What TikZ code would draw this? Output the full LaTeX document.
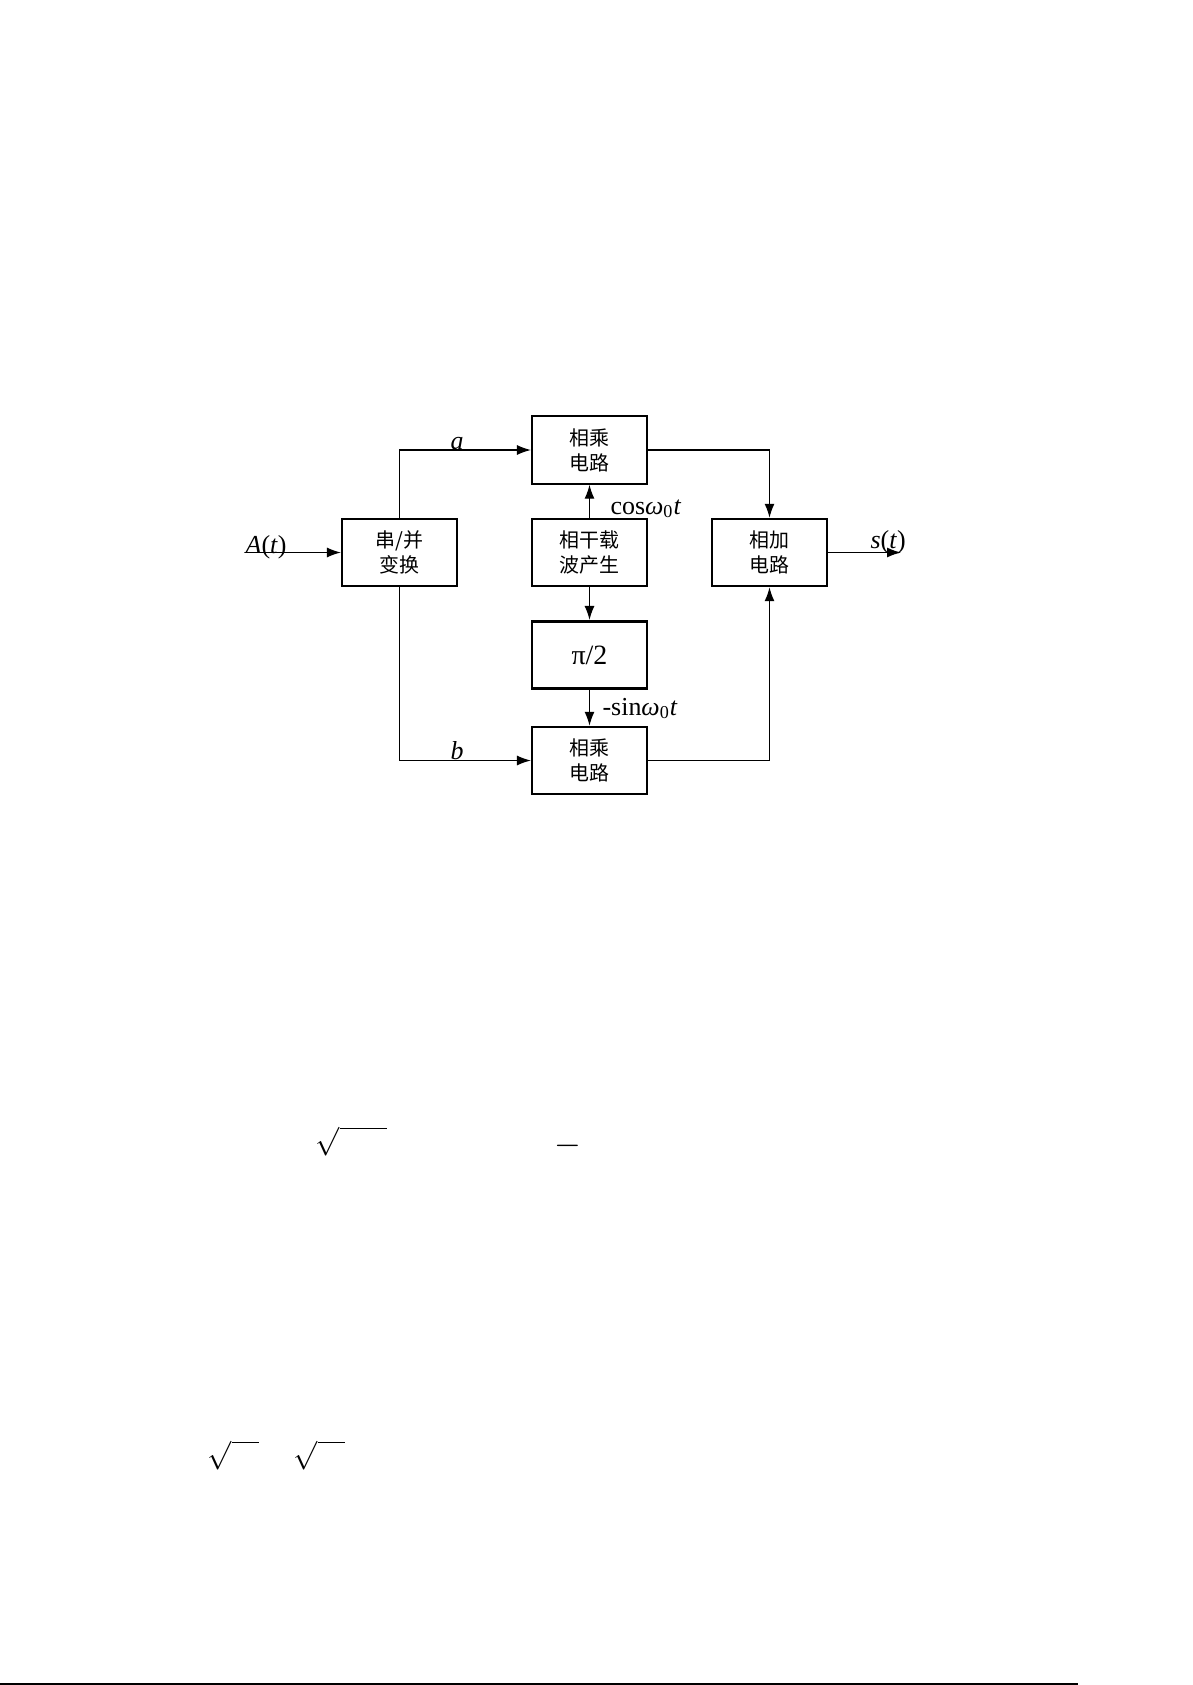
\documentclass[tikz,border=0pt]{standalone}
\usepackage{fontspec}
\setmainfont{Liberation Serif}
\newfontfamily\cjk{Noto Sans CJK SC}
\usetikzlibrary{arrows.meta, positioning}

\begin{document}
\begin{tikzpicture}[x=0.01762cm, y=-0.01762cm, >={Latex[length=7pt, width=5pt]}, line width=0.6pt,
    blk/.style={draw, line width=1pt, minimum width=2.03cm, minimum height=1.19cm,
                align=center, font=\cjk\fontsize{10}{12.5}\selectfont},
    lbl/.style={font=\fontsize{13}{15}\selectfont, inner sep=0pt},
    frag/.style={anchor=north west, inner sep=0pt, font=\fontsize{14}{16}\selectfont}]
  \useasboundingbox (0,0) rectangle (1192,1685);

  % Blocks
  \node[blk] (mula)    at (589.5,450)   {相乘\\电路};
  \node[blk] (sp)      at (399.5,552.5) {串/并\\变换};
  \node[blk] (carrier) at (589.5,552.5) {相干载\\波产生};
  \node[blk] (adder)   at (769.5,552.5) {相加\\电路};
  \node[blk, line width=1.3pt, font=\fontsize{14}{16}\selectfont] (shift) at (589.5,655) {π/2};
  \node[blk] (mulb)    at (589.5,760.5) {相乘\\电路};

  % Free ends
  \coordinate (ain) at (245,552.5);
  \coordinate (sout) at (901,552.5);

  % Connectors
  \draw[->] (ain) -- (sp);
  \draw[->] (sp.north) |- (mula.west);
  \draw[->] (sp.south) |- (mulb.west);
  \draw[->] (carrier) -- (mula);
  \draw[->] (carrier) -- (shift);
  \draw[->] (shift) -- (mulb);
  \draw[->] (mula.east) -| (adder.north);
  \draw[->] (mulb.east) -| (adder.south);
  \draw[->] (adder) -- (sout);

  % Labels
  \node[lbl, anchor=base west] at (245,553) {\textit{A}(\textit{t})};
  \node[lbl, anchor=base west] at (870,548) {\textit{s}(\textit{t})};
  \node[lbl, anchor=south] at (457,450) {\textit{a}};
  \node[lbl, anchor=south] at (457,760.5) {\textit{b}};
  \node[lbl, anchor=base west] at (610,514) {cos\textit{ω}\textsubscript{0}\textit{t}};
  \node[lbl, anchor=base west] at (602,715) {-sin\textit{ω}\textsubscript{0}\textit{t}};

  % Leftover formula fragments
  \node[frag] (frag1) at (315,1126) {$\sqrt{\vphantom{b}\hspace{24pt}}$};
  \node[inner sep=0pt, font=\fontsize{16}{18}\selectfont] (frag2) at (567.5,1146) {$-$};
  \node[frag] (frag3) at (207,1440) {$\sqrt{\vphantom{b}\hspace{14pt}}$};
  \node[frag] (frag4) at (293,1440) {$\sqrt{\vphantom{b}\hspace{14pt}}$};

  % Page rule
  \draw[line width=0.7pt] (0,1684) -- (1078,1684);
\end{tikzpicture}
\end{document}
